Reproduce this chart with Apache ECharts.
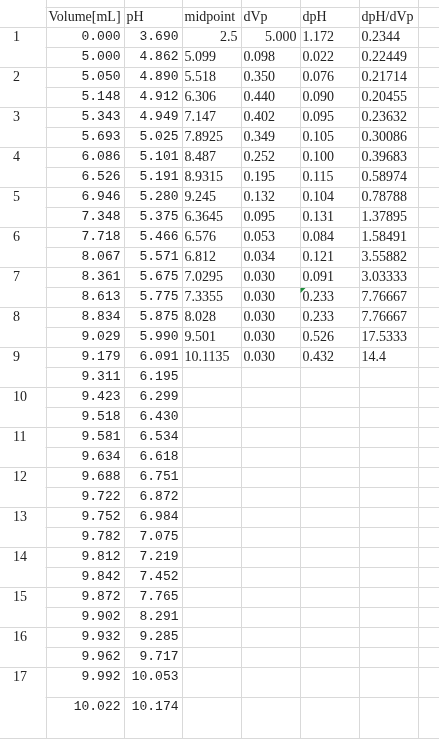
<!DOCTYPE html>
<html><head><meta charset="utf-8">
<script src="https://cdn.jsdelivr.net/npm/echarts@6/dist/echarts.min.js"></script>
<style>html,body{margin:0;padding:0;background:#fff}#c{width:439px;height:739px}</style>
</head><body><div id="c"></div>
<script>
const headers = ['Volume[mL]','pH','midpoint','dVp','dpH','dpH/dVp'];
const volume = ['0.000','5.000','5.050','5.148','5.343','5.693','6.086','6.526','6.946','7.348','7.718','8.067','8.361','8.613','8.834','9.029','9.179','9.311','9.423','9.518','9.581','9.634','9.688','9.722','9.752','9.782','9.812','9.842','9.872','9.902','9.932','9.962','9.992','10.022'];
const pH = ['3.690','4.862','4.890','4.912','4.949','5.025','5.101','5.191','5.280','5.375','5.466','5.571','5.675','5.775','5.875','5.990','6.091','6.195','6.299','6.430','6.534','6.618','6.751','6.872','6.984','7.075','7.219','7.452','7.765','8.291','9.285','9.717','10.053','10.174'];
const midpoint = ['2.5','5.099','5.518','6.306','7.147','7.8925','8.487','8.9315','9.245','6.3645','6.576','6.812','7.0295','7.3355','8.028','9.501','10.1135'];
const dVp = ['5.000','0.098','0.350','0.440','0.402','0.349','0.252','0.195','0.132','0.095','0.053','0.034','0.030','0.030','0.030','0.030','0.030'];
const dpH = ['1.172','0.022','0.076','0.090','0.095','0.105','0.100','0.115','0.104','0.131','0.084','0.121','0.091','0.233','0.233','0.526','0.432'];
const ratio = ['0.2344','0.22449','0.21714','0.20455','0.23632','0.30086','0.39683','0.58974','0.78788','1.37895','1.58491','3.55882','3.03333','7.76667','7.76667','17.5333','14.4'];
const groupLabels = ['1','2','3','4','5','6','7','8','9','10','11','12','13','14','15','16','17'];

// layout
const colEdges = [0,45.5,123.5,181.5,240.5,299.5,358.5,417.5,439];
const rowEdges = [7,27];
for (let i=0;i<volume.length;i++){
  const last = rowEdges[rowEdges.length-1];
  rowEdges.push(last + (i===32?30:(i===33?41:20)));
}
const SERIF = '14px "Liberation Serif","DejaVu Serif",serif';
const MONO = '13px "Liberation Mono","DejaVu Sans Mono",monospace';
const items = [];
function cell(col,row,text,right,font){
  items.push({kind:'text',col,row,text,right,font});
}
headers.forEach((h,i)=>cell(i+1,-1,h,false,SERIF));
volume.forEach((v,i)=>cell(1,i,v,true,MONO));
pH.forEach((v,i)=>cell(2,i,v,true,MONO));
midpoint.forEach((v,i)=>cell(3,i,v,i===0,SERIF));
dVp.forEach((v,i)=>cell(4,i,v,i===0,SERIF));
dpH.forEach((v,i)=>cell(5,i,v,false,SERIF));
ratio.forEach((v,i)=>cell(6,i,v,false,SERIF));
groupLabels.forEach((v,i)=>items.push({kind:'label',row:i*2,text:v}));
for (let k=0;k<rowEdges.length;k++){
  const full = k>=1 && (k-1)%2===0;
  items.push({kind:'h',y:rowEdges[k],x0:full?0:colEdges[1],x1:439});
}
for (let c=1;c<colEdges.length-1;c++) items.push({kind:'v',x:colEdges[c]});
items.push({kind:'flag',col:5,row:13});

const chart = echarts.init(document.getElementById('c'),null,{renderer:'canvas'});
chart.setOption({
  animation:false,
  grid:{left:0,right:0,top:0,bottom:0},
  xAxis:{type:'value',min:0,max:439,show:false},
  yAxis:{type:'value',min:0,max:739,inverse:true,show:false},
  series:[{
    type:'custom',
    data:items.map((d,i)=>[i]),
    renderItem:function(params,api){
      const d = items[api.value(0)];
      const color = '#d9d9d9';
      if (d.kind==='h'){
        const a=api.coord([d.x0,d.y]), b=api.coord([d.x1,d.y]);
        return {type:'line',shape:{x1:a[0],y1:Math.round(a[1])+0.5,x2:b[0],y2:Math.round(b[1])+0.5},style:{stroke:color,lineWidth:1}};
      }
      if (d.kind==='v'){
        const a=api.coord([d.x,0]), b=api.coord([d.x,739]);
        return {type:'line',shape:{x1:Math.round(a[0])+0.5,y1:a[1],x2:Math.round(b[0])+0.5,y2:b[1]},style:{stroke:color,lineWidth:1}};
      }
      if (d.kind==='flag'){
        const p=api.coord([colEdges[d.col],rowEdges[d.row+1]]);
        return {type:'polygon',shape:{points:[[p[0]+1,p[1]+1],[p[0]+6,p[1]+1],[p[0]+1,p[1]+6]]},style:{fill:'#1e8c3a'}};
      }
      if (d.kind==='label'){
        const p=api.coord([13,rowEdges[d.row+1]+10]);
        return {type:'text',style:{x:p[0],y:p[1],text:d.text,font:SERIF,fill:'#222',align:'left',verticalAlign:'middle'}};
      }
      const top=rowEdges[d.row+1];
      const x = d.right ? colEdges[d.col+1]-3 : colEdges[d.col]+3;
      const p=api.coord([x,top+10]);
      return {type:'text',style:{x:p[0],y:p[1],text:d.text,font:d.font,fill:'#222',align:d.right?'right':'left',verticalAlign:'middle'}};
    }
  }]
});
</script></body></html>
